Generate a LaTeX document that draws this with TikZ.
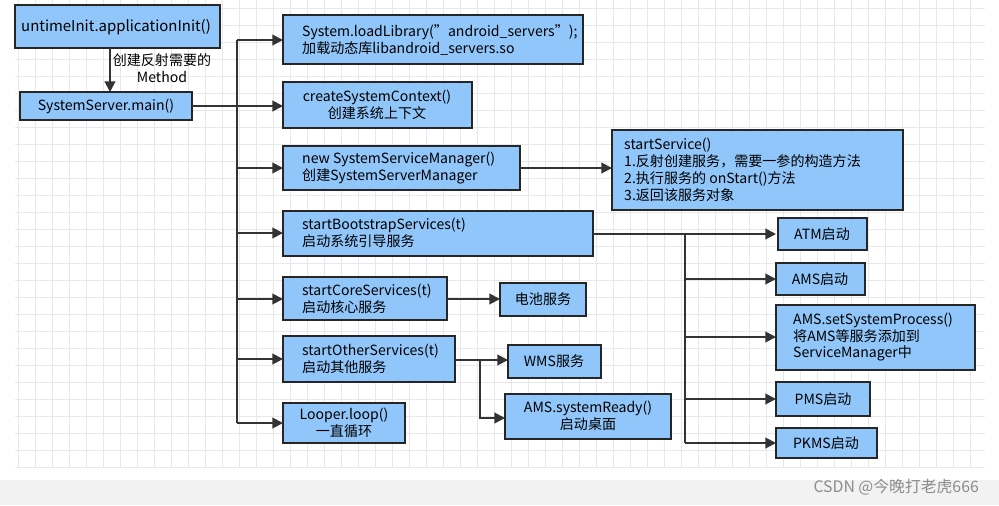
\documentclass[tikz,border=0pt]{standalone}
\usepackage{fontspec}
\setmainfont{Noto Sans CJK SC}
\usetikzlibrary{arrows.meta}
\definecolor{boxblue}{RGB}{144,198,250}
\definecolor{gridc}{RGB}{232,232,236}
\begin{document}
\begin{tikzpicture}[x=0.02cm,y=-0.02cm,
  box/.style={draw=black!85,line width=1.1pt,fill=boxblue,inner sep=0pt,font=\fontsize{8}{9.6}\selectfont},
  arr/.style={draw=black!80,line width=1.1pt,-{Triangle[length=6pt,width=6pt]}},
  ln/.style={draw=black!80,line width=1.1pt}]
\useasboundingbox (0,0) rectangle (999,505);
\fill[white] (0,0) rectangle (999,505);
\foreach \x in {18,35,...,985} \draw[gridc,line width=0.4pt] (\x,0) -- (\x,468);
\foreach \y in {8,25,...,468} \draw[gridc,line width=0.4pt] (15,\y) -- (985,\y);
\fill[black!5] (0,480) rectangle (999,505);
\node[text=black!45,font=\fontsize{9}{10}\selectfont,anchor=east] (wm) at (985,487) {CSDN @今晚打老虎666};
% boxes: corners in pixels
\newcommand{\bx}[6]{\draw[box] (#2,#3) rectangle (#4,#5); \node[font=\fontsize{8}{9.6}\selectfont,align=#6] (#1) at ({(#2+#4)/2},{(#3+#5)/2}) {};}
\draw[box] (15,5) rectangle (220,48);
\node[font=\fontsize{8.5}{10}\selectfont,anchor=west] (rt) at (15,27) {untimeInit.applicationInit()};
\coordinate (rtb) at (110,48);
\draw[box] (20,92) rectangle (192,120);
\node[font=\fontsize{8}{9.6}\selectfont] (main) at (106,106) {SystemServer.main()};
\coordinate (mainT) at (110,92);
\coordinate (mainR) at (192,106);
\draw[box] (283,15) rectangle (583,64);
\node[font=\fontsize{8}{9.6}\selectfont,align=left,anchor=west] (lib) at (296,40) {System.loadLibrary("android\_servers");\\加载动态库libandroid\_servers.so};
\draw[box] (283,82) rectangle (472,128);
\node[font=\fontsize{8}{9.6}\selectfont,align=center] (ctx) at (377,105) {createSystemContext()\\创建系统上下文};
\draw[box] (283,146) rectangle (520,190);
\node[font=\fontsize{8}{9.6}\selectfont,align=left,anchor=west] (ssm) at (296,168) {new SystemServiceManager()\\创建SystemServerManager};
\draw[box] (283,211) rectangle (593,256);
\node[font=\fontsize{8}{9.6}\selectfont,align=left,anchor=west] (boot) at (296,233) {startBootstrapServices(t)\\启动系统引导服务};
\draw[box] (283,277) rectangle (447,320);
\node[font=\fontsize{8}{9.6}\selectfont,align=left,anchor=west] (core) at (296,299) {startCoreServices(t)\\启动核心服务};
\draw[box] (283,336) rectangle (455,382);
\node[font=\fontsize{8}{9.6}\selectfont,align=left,anchor=west] (other) at (296,359) {startOtherServices(t)\\启动其他服务};
\draw[box] (283,403) rectangle (405,443);
\node[font=\fontsize{8}{9.6}\selectfont,align=center] (loop) at (344,423) {Looper.loop()\\一直循环};
\draw[box] (612,130) rectangle (903,210);
\node[font=\fontsize{8}{9.6}\selectfont,align=left,anchor=west] (ss) at (618,170) {startService()\\1.反射创建服务，需要一参的构造方法\\2.执行服务的 onStart()方法\\3.返回该服务对象};
\draw[box] (778,218) rectangle (867,250);
\node[font=\fontsize{8}{9.6}\selectfont] (atm) at (822,234) {ATM启动};
\draw[box] (776,263) rectangle (865,295);
\node[font=\fontsize{8}{9.6}\selectfont] (ams) at (820,279) {AMS启动};
\draw[box] (776,305) rectangle (975,370);
\node[font=\fontsize{8}{9.6}\selectfont,align=left,anchor=west] (sp) at (787,337) {AMS.setSystemProcess()\\将AMS等服务添加到\\ServiceManager中};
\draw[box] (776,382) rectangle (870,416);
\node[font=\fontsize{8}{9.6}\selectfont] (pms) at (823,399) {PMS启动};
\draw[box] (776,428) rectangle (877,458);
\node[font=\fontsize{8}{9.6}\selectfont] (pkms) at (826,443) {PKMS启动};
\draw[box] (500,283) rectangle (586,316);
\node[font=\fontsize{8}{9.6}\selectfont] (bat) at (543,299) {电池服务};
\draw[box] (508,345) rectangle (601,378);
\node[font=\fontsize{8}{9.6}\selectfont] (wms) at (554,361) {WMS服务};
\draw[box] (505,394) rectangle (671,439);
\node[font=\fontsize{8}{9.6}\selectfont,align=center] (rdy) at (588,416) {AMS.systemReady()\\启动桌面};
% connectors
\draw[arr] (rtb) -- (mainT);
\node[font=\fontsize{8}{9.6}\selectfont,align=center] (lbl) at (162,68) {创建反射需要的\\Method};
\draw[ln] (mainR) -- (237,106);
\draw[ln] (237,40) -- (237,423);
\foreach \y in {40,106,168,233,299,359,423} \draw[arr] (237,\y) -- (283,\y);
\draw[arr] (520,168) -- (612,168);
\draw[ln] (593,234) -- (685,234) -- (685,443);
\foreach \y in {234,279,337,399,443} \draw[arr] (685,\y) -- (776,\y);
\draw[arr] (447,299) -- (500,299);
\draw[arr] (455,360) -- (508,360);
\draw[arr] (480,360) -- (480,418) -- (505,418);
\end{tikzpicture}
\end{document}
